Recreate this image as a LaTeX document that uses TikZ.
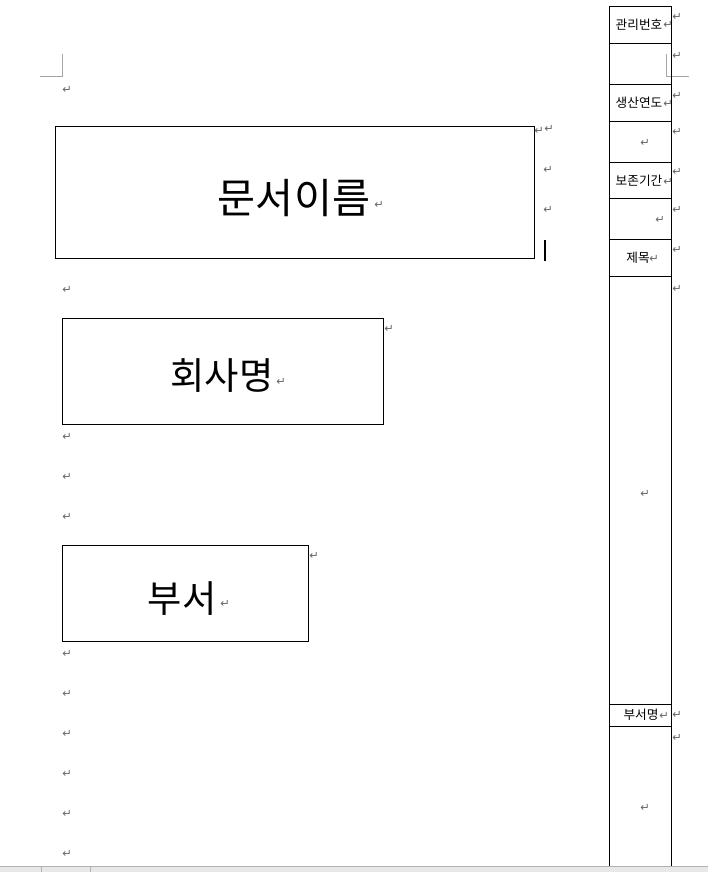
\documentclass[tikz,border=0pt]{standalone}
\usepackage{fontspec}
\setmainfont{Noto Sans CJK KR}
\newfontfamily\symf{DejaVu Sans}
\tikzset{
  box/.style={draw=black,line width=0.75pt},
  pm/.style={text=gray!80!black,font=\symf\fontsize{8.5}{8.5}\selectfont,inner sep=0pt},
  cell/.style={font=\fontsize{9.5}{10}\selectfont,inner sep=0pt},
  crop/.style={draw=gray!70,line width=0.75pt},
}
\begin{document}
\begin{tikzpicture}[x=0.75pt,y=-0.75pt]
\useasboundingbox (0,0) rectangle (708,872);
\fill[white] (0,0) rectangle (708,872);
% crop marks
\draw[crop] (40,76) -- (62,76) -- (62,54);
\draw[crop] (666,54) -- (666,76) -- (689,76);
% boxes
\draw[box] (55,126) rectangle (534,258);
\node[font=\fontsize{31}{31}\selectfont] (t1) at (294,198) {문서이름};
\node[pm] at (379,205) {↵};
\draw[box] (62,318) rectangle (383,424);
\node[font=\fontsize{28}{28}\selectfont] (t2) at (222,376) {회사명};
\node[pm] at (281,382) {↵};
\draw[box] (62,545) rectangle (308,641);
\node[font=\fontsize{28}{28}\selectfont] (t3) at (182,599) {부서};
\node[pm] at (225,604) {↵};
% cursor
\draw[line width=1.5pt] (545,240) -- (545,261);
% paragraph marks left
\foreach \y in {90,290,437,477,517,654,694,734,774,814,854} \node[pm] at (67,\y) {↵};
\node[pm] at (539,131) {↵}; \node[pm] at (549,129) {↵};
\node[pm] at (548,170) {↵}; \node[pm] at (548,210) {↵};
\node[pm] at (389,329) {↵}; \node[pm] at (314,556) {↵};
% right table
\draw[box] (609,6) -- (609,866);
\draw[box] (671,6) -- (671,866);
\foreach \y in {6,43,84,121,162,198,239,276,704,726} \draw[box] (609,\y) -- (671,\y);
\node[cell] (c1) at (639,25) {관리번호};
\node[cell] (c2) at (639,103) {생산연도};
\node[cell] (c3) at (639,181) {보존기간};
\node[cell] (c4) at (638,258) {제목};
\node[cell] (c5) at (641,715) {부서명};
\node[pm] at (668,25) {↵}; \node[pm] at (668,104) {↵}; \node[pm] at (668,182) {↵};
\node[pm] at (654,259) {↵}; \node[pm] at (664,716) {↵};
\node[pm] at (645,143) {↵}; \node[pm] at (660,220) {↵};
\node[pm] at (645,494) {↵}; \node[pm] at (645,808) {↵};
\foreach \y in {17,56,96,132,172,210,250,289,715,738} \node[pm] at (677,\y) {↵};
% status bar
\fill[gray!18] (0,866) rectangle (708,872);
\draw[gray!60,line width=0.75pt] (0,866) -- (708,866);
\draw[gray!60] (41,867) -- (41,872); \draw[gray!60] (90,867) -- (90,872);
\end{tikzpicture}
\end{document}
